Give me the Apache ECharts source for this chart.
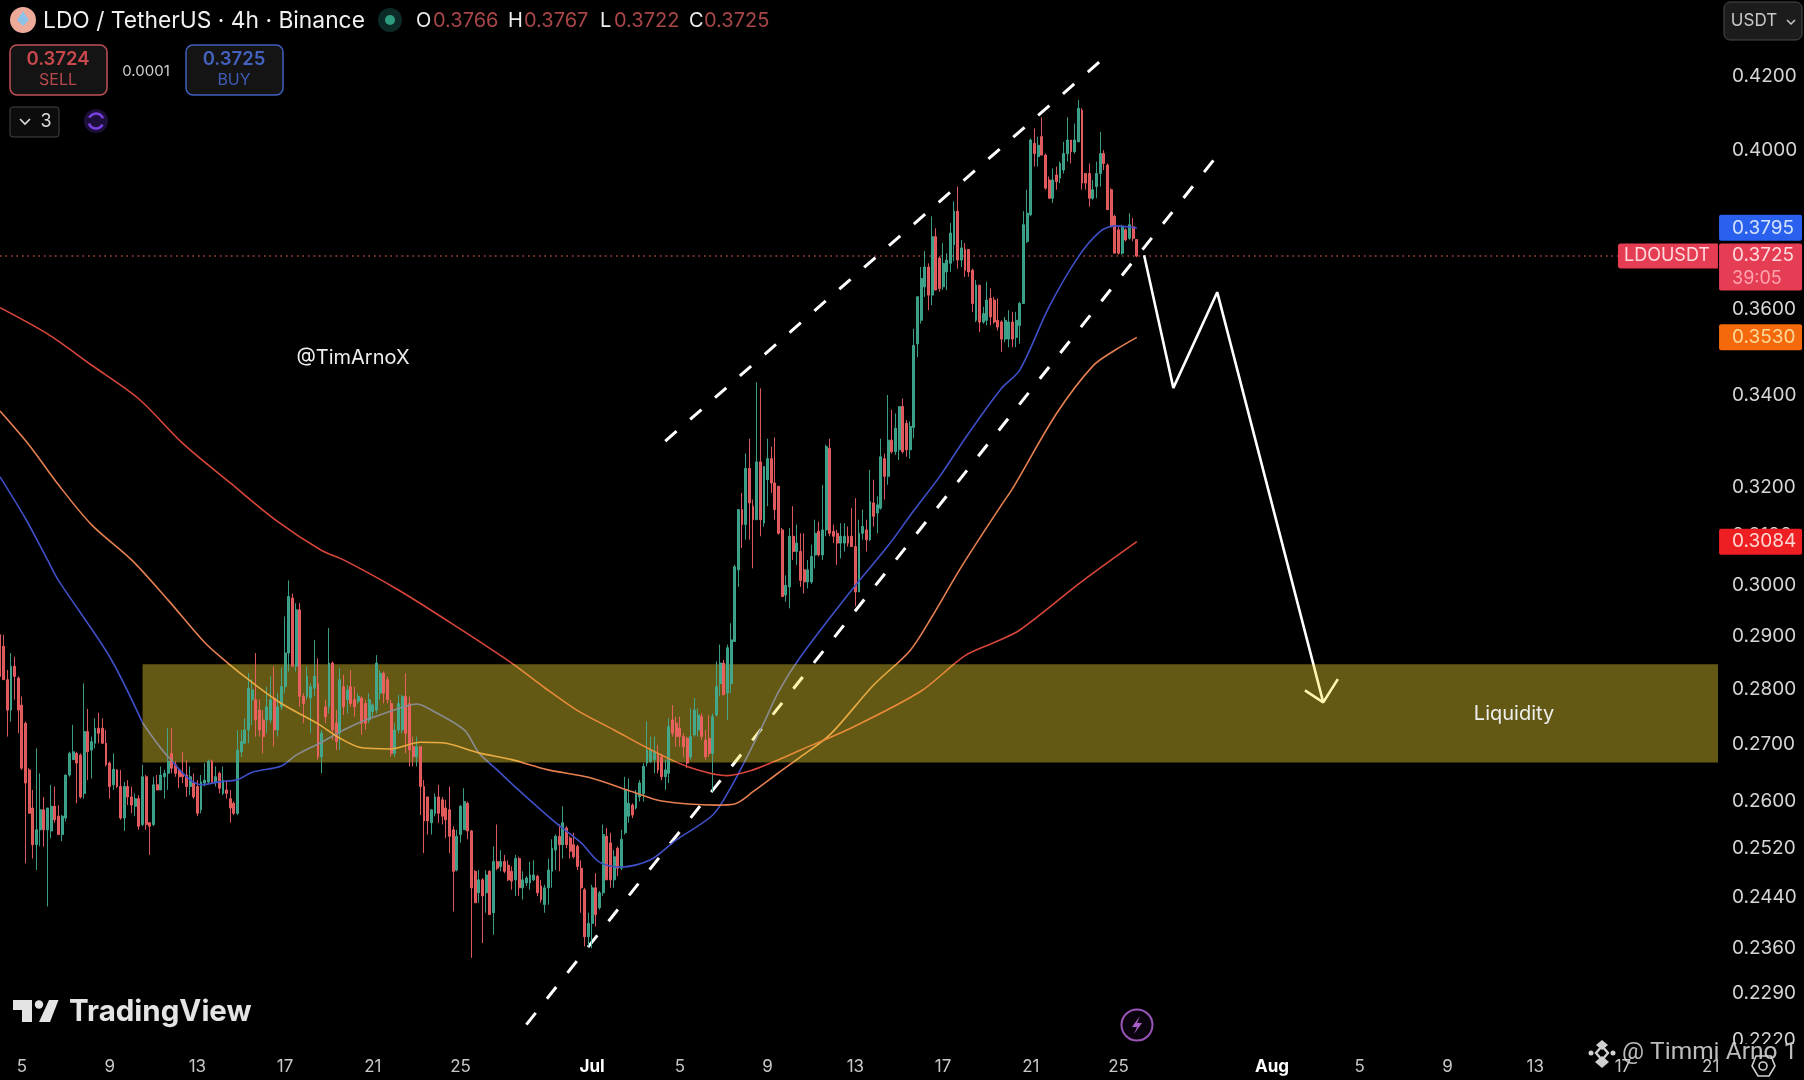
<!DOCTYPE html>
<html><head><meta charset="utf-8"><style>html,body{margin:0;padding:0;background:#000}#c{width:1804px;height:1080px}</style>
<script src="https://cdn.jsdelivr.net/npm/echarts@6/dist/echarts.min.js"></script></head><body><div id="c"></div>
<script>
// rows: [open, close, low, high], 4h candles from Jun 4
const candlesJune = [
[.29,.2821,.2815,.2971],[.2878,.2815,.2815,.29],[.2815,.2759,.2711,.2833],[.2759,.284,.2738,.2865],[.284,.2821,.2778,.2858],[.2818,.2759,.2717,.2821],[.2768,.2655,.2652,.2784],[.2735,.2629,.2493,.2738],[.2652,.2577,.2577,.2655],[.2586,.2524,.2501,.2617],
[.2524,.2549,.2482,.269],[.2549,.2583,.2521,.2646],[.2583,.2549,.2521,.2605],[.2549,.2586,.2423,.2586],[.2547,.2589,.2535,.2626],[.2589,.2566,.2561,.2623],[.2572,.2541,.2541,.2591],[.2541,.2572,.253,.2574],[.2569,.2643,.2563,.2643],[.2643,.2681,.264,.2684],
[.267,.2684,.267,.2732],[.2681,.2664,.2594,.2684],[.2678,.2605,.2602,.2681],[.2611,.272,.2602,.2808],[.272,.2684,.2634,.2761],[.2687,.2702,.2637,.2711],[.2699,.2726,.269,.2744],[.2726,.2717,.2699,.2754],[.2726,.2699,.2699,.2744],[.2699,.2661,.2658,.2723],
[.2664,.2623,.2602,.2667],[.2626,.2653,.2617,.2681],[.2652,.2623,.262,.2653],[.2623,.2569,.2566,.2652],[.2569,.2623,.2547,.2631],[.2623,.2605,.2591,.2634],[.2605,.2591,.2577,.2623],[.2589,.2602,.2572,.2611],[.2602,.2555,.2549,.2608],[.2558,.264,.2555,.2661],
[.264,.2558,.2549,.2643],[.2561,.2555,.2507,.2561],[.2558,.2626,.2555,.264],[.2626,.2617,.2617,.2643],[.2617,.2643,.2617,.2658],[.264,.2646,.2602,.2652],[.2646,.2667,.2617,.2726],[.2681,.2655,.2646,.2726],[.2661,.2646,.264,.2667],[.2652,.264,.262,.2655],
[.2646,.264,.2629,.2684],[.2643,.2623,.2605,.267],[.2623,.264,.2608,.2658],[.2629,.2605,.2602,.2646],[.2623,.2577,.2572,.2634],[.2583,.2631,.2577,.2643],[.2629,.2634,.2623,.2664],[.2631,.2667,.2629,.267],[.2667,.2631,.2629,.267],[.2631,.264,.2623,.2658],
[.2646,.262,.2611,.2649],[.2611,.2634,.2608,.2658],[.2617,.2611,.2602,.2634],[.2602,.2586,.2561,.2617],[.2594,.2577,.2574,.2597],[.2577,.2687,.2574,.2723],[.2684,.2702,.2675,.2723],[.2699,.2723,.2699,.2744],[.2723,.2799,.2699,.2827],[.2778,.2796,.2732,.2815],
[.2778,.2741,.2711,.2865],[.2759,.2723,.2711,.2778],[.2741,.2711,.2681,.2759],[.2741,.2765,.2717,.2802],[.2741,.2778,.2735,.2821],[.2781,.2723,.2693,.284],[.2723,.2765,.2711,.279],[.2765,.2802,.2759,.2837],[.2802,.2865,.279,.2935],[.2865,.2974,.283,.3006],
[.2971,.284,.284,.298],[.284,.2948,.283,.2961],[.2948,.2784,.2765,.2961],[.2784,.2771,.2735,.279],[.2784,.2821,.2778,.284],[.2781,.2802,.2717,.2808],[.2799,.2821,.2784,.289],[.2808,.2675,.267,.2855],[.2675,.2717,.2646,.2723],[.2765,.2747,.2735,.2778],
[.2765,.2846,.2753,.2913],[.2846,.2723,.2705,.2849],[.2735,.2702,.2687,.2759],[.2717,.2815,.2687,.2837],[.2802,.2765,.275,.2824],[.2778,.2796,.2753,.2805],[.2802,.2771,.2765,.2833],[.2778,.2765,.2747,.2802],[.2775,.2784,.2771,.279],[.2781,.2735,.2714,.2784],
[.2771,.2735,.2723,.2778],[.2741,.2778,.2735,.279],[.2756,.2768,.2747,.2771],[.2759,.2846,.2753,.2861],[.279,.2827,.2778,.2833],[.2827,.279,.2771,.283],[.2815,.2778,.2771,.2821],[.2771,.2681,.2675,.2778],[.2681,.2723,.2675,.2735],[.2723,.2771,.2717,.2787],
[.2723,.2784,.2717,.2787],[.2784,.2717,.2681,.2827],[.2771,.2687,.2658,.2784],[.2693,.2675,.2658,.2711],[.2675,.2693,.2658,.2711],[.2693,.2623,.2574,.2693],[.2623,.2564,.251,.2634],[.2605,.2564,.2541,.2605],[.2561,.2583,.2541,.2583],[.2577,.2605,.2572,.2611],
[.2605,.2577,.2561,.2626],[.26,.2572,.2558,.2605],[.2586,.2566,.2535,.26],[.2583,.2538,.251,.2623],[.2549,.248,.2415,.2555],[.2482,.2538,.248,.2549],[.2541,.2589,.2527,.2591],[.2549,.2597,.2549,.262],[.2594,.2547,.2533,.2597],[.2547,.2453,.2342,.2549],
[.248,.2429,.2429,.2482],[.2445,.2466,.2429,.2482],[.2466,.244,.2365,.2469],[.2445,.2474,.2413,.2482],[.248,.241,.241,.2482],[.2413,.2496,.2378,.2521],[.2496,.2485,.2482,.2558],[.2488,.2496,.248,.2515],[.2496,.248,.2477,.2507],[.249,.2466,.2464,.2498],
[.248,.2464,.245,.2488],[.2466,.2501,.244,.2507],[.2501,.2453,.244,.2504],[.2453,.2466,.2434,.248],[.2461,.2469,.2456,.2472],[.2461,.2474,.245,.2496],[.2466,.2474,.2464,.2498],[.2472,.2445,.244,.2474],[.2456,.2434,.2429,.2466],[.2426,.2453,.2413,.2458],
[.2453,.2482,.2426,.2501],[.248,.2518,.2453,.2533],[.2515,.2538,.2482,.2541],[.2538,.2524,.248,.2558],[.2524,.2561,.2501,.2589],[.2552,.2524,.2518,.2555],[.2535,.2513,.2501,.2538],[.2524,.2504,.2501,.2544],[.2521,.2488,.2482,.2524],[.2485,.2453,.2413,.2498],
[.245,.2375,.236,.2453],[.2375,.2396,.236,.2413]];
const candlesJuly = [
[.2396,.2453,.2357,.2458],[.2453,.241,.2391,.2477],[.2421,.2445,.2418,.2448],[.2445,.2541,.244,.2558],[.2538,.2466,.2466,.2552],[.2527,.2466,.2453,.2544],[.2466,.2504,.2453,.2515],[.2518,.2485,.2472,.2521],
[.2485,.2533,.2482,.2549],[.2544,.2617,.2541,.264],[.2572,.2594,.2561,.2637],[.2591,.2574,.2569,.2594],[.2586,.2611,.2583,.2617],[.2605,.2629,.2597,.2634],[.2611,.2658,.2597,.2664],[.2664,.2687,.2658,.2738],[.2667,.2687,.2664,.2711],[.267,.2684,.2646,.2711],
[.2681,.2652,.2646,.2696],[.2675,.264,.2634,.2681],[.264,.2652,.2617,.267],[.2646,.2729,.2629,.2744],[.2741,.2717,.2711,.2768],[.2735,.2711,.2693,.2747],[.2726,.2711,.2693,.2747],[.2711,.2693,.2675,.2717],[.2708,.2664,.2655,.2711],[.2675,.2711,.267,.2762],
[.2714,.2759,.2711,.2781],[.2723,.275,.2711,.2762],[.2747,.2711,.2705,.2753],[.2705,.2675,.267,.2723],[.2708,.2681,.2675,.275],[.2681,.2747,.2614,.2753],[.275,.2802,.2747,.2849],[.2808,.2846,.2784,.2881],[.2846,.2787,.2787,.2852],[.279,.2875,.2741,.2881],
[.2808,.289,.279,.2922],[.2887,.3033,.2887,.3037],[.3027,.315,.2993,.315],[.315,.3119,.3071,.3185],[.3119,.3237,.3088,.3269],[.3237,.3164,.3088,.3301],[.3157,.3129,.303,.3171],[.3129,.3251,.3129,.3427],[.3251,.3129,.3095,.3413],[.3122,.3241,.3115,.3241],
[.3213,.3258,.3157,.3301],[.3258,.3206,.3185,.3284],[.3206,.315,.3129,.3304],[.3199,.3101,.3098,.3199],[.3108,.2974,.2974,.3112],[.2977,.2996,.2964,.3016],[.2993,.3095,.2951,.3112],[.3095,.3064,.3047,.3157],[.3064,.3081,.3037,.3119],[.3064,.3006,.2993,.3101],
[.3027,.3003,.298,.3101],[.3003,.3027,.299,.3047],[.3003,.3054,.2999,.3078],[.3057,.3101,.303,.3129],[.3105,.3057,.3054,.3125],[.3057,.3108,.3047,.3202],[.3108,.3284,.3095,.3288],[.328,.3101,.3095,.3301],[.3105,.3095,.3081,.3119],[.3101,.3081,.3037,.3108],
[.3081,.3095,.305,.3122],[.3081,.3095,.3064,.3122],[.3095,.3081,.3074,.3115],[.3095,.3074,.3074,.3153],[.3074,.2983,.2955,.3174],[.2983,.3101,.2983,.3129],[.3101,.3115,.3088,.315],[.3108,.3088,.3064,.3129],[.3088,.3167,.3085,.3234],[.3164,.3136,.3115,.3213],
[.3143,.316,.3101,.3178],[.3153,.3262,.315,.3301],[.3258,.322,.3171,.3269],[.322,.3298,.3202,.3398],[.3298,.3273,.3269,.3365],[.3273,.3324,.3266,.3357],[.3277,.3372,.3255,.3372],[.3372,.3273,.3269,.339],[.3335,.3277,.3262,.3342],[.3277,.3328,.3258,.3339],
[.3326,.3511,.3302,.355],[.3515,.3626,.3484,.3626],[.357,.367,.3562,.3698],[.365,.3698,.3626,.3737],[.3698,.363,.3594,.3707],[.363,.3773,.3606,.3824],[.3773,.3642,.3642,.3794],[.372,.3646,.3638,.3724],[.365,.3707,.3642,.3757],[.3686,.3715,.3642,.3732],
[.3707,.3782,.3686,.3807],[.3753,.3837,.3712,.3862],[.3837,.3715,.3694,.39],[.3715,.3745,.3698,.3765],[.3741,.369,.3674,.3757],[.3741,.3686,.3674,.3741],[.369,.361,.359,.3694],[.357,.3654,.3566,.3666],[.3654,.3566,.3542,.3654],[.3566,.3586,.3562,.3602],
[.357,.3618,.3558,.3662],[.3622,.3578,.3558,.3646],[.3618,.3566,.3562,.3626],[.357,.3554,.3546,.3622],[.3566,.3526,.3496,.357],[.3526,.357,.3519,.3578],[.3526,.3566,.3507,.3594],[.3566,.3526,.3507,.359],[.353,.357,.3507,.359],[.3558,.361,.3515,.3614],
[.361,.3803,.361,.3837],[.3761,.3832,.3757,.3892],[.3828,.4022,.3824,.4026],[.4013,.3986,.3952,.4053],[.3978,.4008,.3952,.4031],[.4031,.3982,.3982,.4083],[.3982,.3896,.3892,.3986],[.3917,.387,.387,.3926],[.387,.3917,.3858,.3947],[.393,.3913,.3892,.3952],
[.3922,.396,.3909,.3965],[.3943,.3986,.3934,.4017],[.3986,.4022,.3965,.4083],[.4022,.3991,.396,.4022],[.3991,.4022,.3986,.4066],[.4017,.4107,.4017,.413],[.4102,.3909,.3892,.4107],[.3934,.3909,.3892,.3934],[.3934,.387,.3849,.396],[.387,.3892,.3866,.3917],
[.39,.3934,.387,.3965],[.3934,.3986,.39,.4044],[.3986,.396,.3943,.3995],[.3956,.3841,.3841,.396],[.3892,.3798,.3798,.3896],[.3824,.3732,.3732,.3828],[.379,.3732,.3728,.3798],[.3732,.3798,.3728,.3803],[.379,.3765,.3761,.3794],[.3769,.3803,.3765,.3832],
[.3798,.3769,.3761,.382],[.3766,.3725,.3722,.3767]];
// moving averages, [candle index, price]
const maBlueLeft = [[0,.3219],[7,.3131],[13,.3047],[16,.3006],[30,.2858],[39,.2736]];
const maBlue = [[39,.2736],[46,.2675],[55,.2626],[60,.2631],[65,.2635],[69,.2648],[77,.2659],[81,.2678],[88,.2701],[94,.2723],[100,.2741],[106,.2755],[111,.2766],[114,.277],[118,.2759],[127,.2723],[131,.2682],[136,.2652],[141,.2622],[152,.2561],[159,.2527],[164,.2495],[170,.2487],[178,.2499],[185,.2532],[195,.2574],[200,.2622],[204,.267],[209,.2736],[213,.2793],[219,.2858],[233,.2987],[243,.3076],[250,.3148],[257,.3219],[265,.3313],[274,.3413],[279,.3455],[287,.3602],[295,.3723],[301,.3786],[305,.38],[311,.3795]];
const maOrange = [[0,.3362],[8,.3287],[16,.3202],[25,.3119],[36,.3047],[46,.2967],[56,.2885],[62,.2848],[68,.2815],[77,.2771],[87,.2734],[93,.2708],[99,.2691],[107,.2689],[115,.2701],[121,.27],[131,.2682],[140,.267],[150,.2652],[161,.2639],[173,.2614],[181,.2598],[196,.2591],[201,.2593],[206,.2614],[213,.2647],[219,.2675],[227,.2714],[239,.2805],[249,.287],[255,.2935],[263,.3033],[274,.316],[277,.3194],[289,.3356],[299,.3464],[305,.35],[311,.353]];
const maRed = [[0,.36],[13,.3538],[25,.3466],[38,.3389],[50,.3291],[63,.3206],[76,.3125],[88,.3066],[94,.3047],[109,.2987],[125,.2915],[140,.2846],[149,.28],[158,.2758],[168,.2723],[177,.2691],[188,.2658],[199,.2642],[206,.2652],[213,.267],[219,.2687],[233,.2727],[252,.2794],[264,.286],[272,.2885],[279,.2909],[296,.3004],[311,.3084]];
// drawings on the chart
const channelUpper = [[182,.3296],[303,.4255]];
const channelLower = [[144,.2241],[335,.4005]];
const projection = [[313,.3727],[321,.3414],[333,.3637],[362,.2773]];
const arrowHead = [[357,.2795],[362,.2773],[366,.2816]];
const zoneFrom = 39, zoneTo = 470, zoneLow = .2665, zoneHigh = .2844;
const lastPrice = .3725;
const yTicks = [.42,.40,.38,.36,.34,.32,.31,.30,.29,.28,.27,.26,.252,.244,.236,.229,.222];
const xTickIndex = [6,30,54,78,102,126,162,186,210,234,258,282,306,348,372,396,420,444,468];
const xTickLabels = ['5','9','13','17','21','25','Jul','5','9','13','17','21','25','Aug','5','9','13','17','21'];
const barCount = 471;

const candles = candlesJune.concat(candlesJuly);
const categories = [];
for (let i=0;i<barCount;i++){const d=new Date(Date.UTC(2024,5,4,i*4));categories.push(d.toISOString().slice(0,16));}
const FONT='Inter';
const chart = echarts.init(document.getElementById('c'),null,{renderer:'canvas'});
const line=(name,data,color,width,z,extra)=>Object.assign({type:'line',name,data,symbol:'none',z,silent:true,animation:false,clip:true,lineStyle:Object.assign(color?{color,width}:{width},extra||{})});
const ma=(name,data,color)=>Object.assign(line(name,data,color,1.6,12),{smooth:.3});
const tag=(value,text,bg,fg)=>({type:'scatter',data:[[barCount-1,value]],symbolSize:.1,z:20,clip:false,silent:true,itemStyle:{color:'rgba(0,0,0,0)',opacity:1},
  label:{show:true,opacity:1,position:'right',distance:1,formatter:text,width:70,height:26,lineHeight:26,padding:[0,0,0,13],verticalAlign:'middle',backgroundColor:bg,color:fg,fontFamily:FONT,fontSize:19,borderRadius:2}});
const series=[
  {type:'candlestick',name:'LDOUSDT',data:candles,z:11,silent:true,barWidth:2.4,
   itemStyle:{color:'#41ad93',color0:'#f26265',borderColor:'#41ad93',borderColor0:'#f26265',borderWidth:1,opacity:.9}},
  ma('MA blue left',maBlueLeft,'#3f4fc8'),
  ma('MA blue',maBlue,null),
  ma('MA orange',maOrange,null),
  ma('MA red',maRed,null),
  line('last',[[0,lastPrice],[barCount-1,lastPrice]],'#b4483f',1.4,3,{type:[1.5,4]}),
  line('channel upper',channelUpper,'#fff',3,4,{type:[15,18]}),
  line('channel lower',channelLower,'#fff',3,4,{type:[15,18]}),
  line('projection',projection,'#fff',2.6,4),
  line('arrow',arrowHead,'#fff',2.6,4),
  {type:'line',name:'liquidity',data:[],z:10,silent:true,markArea:{silent:true,z:10,itemStyle:{color:'rgba(254,230,51,0.39)'},
    data:[[{xAxis:zoneFrom,yAxis:zoneHigh},{xAxis:zoneTo,yAxis:zoneLow}]]}},
  tag(.3795,'0.3795','#2a60ee','#d2e2ff'),
  tag(.353,'0.3530','#f4690c','#ffd99a'),
  tag(.3084,'0.3084','#ee1f22','#ffd6d2'),
  {type:'scatter',data:[[barCount-1,lastPrice]],symbolSize:.1,z:21,clip:false,silent:true,itemStyle:{color:'rgba(0,0,0,0)',opacity:1},
   label:{show:true,opacity:1,position:'right',distance:1,offset:[0,11],width:70,height:47,padding:[0,0,0,13],backgroundColor:'#e53d54',borderRadius:2,
    formatter:'{a|0.3725}\n{b|39:05}',rich:{a:{fontFamily:FONT,fontSize:19,color:'#ffd9dc',lineHeight:24},b:{fontFamily:FONT,fontSize:18,color:'#ffa3ae',lineHeight:22}}}},
  {type:'scatter',data:[[barCount-1,lastPrice]],symbolSize:.1,z:21,clip:false,silent:true,itemStyle:{color:'rgba(0,0,0,0)',opacity:1},
   label:{show:true,opacity:1,position:'left',distance:0,formatter:'LDOUSDT',width:92,height:25,lineHeight:25,padding:[0,8,0,0],backgroundColor:'#e53d54',color:'#ffd9dc',fontFamily:FONT,fontSize:18,borderRadius:[3,0,0,3]}}
];
const tint=(idx,base,inside)=>({type:'piecewise',show:false,seriesIndex:idx,dimension:1,pieces:[{gt:0,lte:zoneLow,color:base},{gt:zoneLow,lte:zoneHigh,color:inside},{gt:zoneHigh,lte:1,color:base}]});
chart.setOption({
 animation:false,backgroundColor:'#000',
 grid:{left:0,right:86,top:0,bottom:33,containLabel:false},
 visualMap:[tint(2,'#3f4fc8','#8a8b90'),tint(3,'#e57f50','#e8ab42'),tint(4,'#d8453a','#e88a38')],
 xAxis:{type:'category',data:categories,boundaryGap:false,axisLine:{show:false},axisTick:{show:false},splitLine:{show:false},
  axisLabel:{interval:(i)=>xTickIndex.includes(i),margin:11,fontFamily:FONT,fontSize:17,color:'#c8c8c8',
   formatter:(v,i)=>{const k=xTickIndex.indexOf(i);if(k<0)return '';const t=xTickLabels[k];return /[A-Za-z]/.test(t)?'{b|'+t+'}':t;},
   rich:{b:{fontFamily:FONT,fontSize:17,fontWeight:'bold',color:'#fff'}}}},
 yAxis:{type:'log',position:'right',min:.22080,max:.44121,axisLine:{show:false},axisTick:{show:false},splitLine:{show:false},minorSplitLine:{show:false},
  axisLabel:{customValues:yTicks,margin:14,fontFamily:FONT,fontSize:19,color:'#d6d6d6',formatter:(v)=>'{a|'+Number(v).toFixed(4)+'}',
   rich:{a:{fontFamily:FONT,fontSize:19,color:'#d6d6d6',padding:[3,0,0,0]}}}},
 series,
 graphic:[
  // cover under the axis
  {type:'rect',z:30,shape:{x:1720,y:1044,width:84,height:8},style:{fill:'#000'}},
  // header logo
  {type:'circle',z:40,shape:{cx:23,cy:20,r:13},style:{fill:'#eeaa99'}},
  {type:'polygon',z:41,shape:{points:[[23,11],[29,20],[23,26],[17,20]]},style:{fill:'#8fc2e8'}},
  {type:'text',z:40,x:43,y:21,style:{text:'LDO / TetherUS · 4h · Binance',fill:'#f0f0f0',font:'22.8px '+FONT,verticalAlign:'middle'}},
  {type:'circle',z:40,shape:{cx:390,cy:20,r:12},style:{fill:'#0d2b26'}},
  {type:'circle',z:41,shape:{cx:390,cy:20,r:5},style:{fill:'#2e9c80'}},
  ...[['O',416,'0.3766',433],['H',508,'0.3767',524],['L',600,'0.3722',614],['C',689,'0.3725',704]].flatMap(r=>[
   {type:'text',z:40,x:r[1],y:21,style:{text:r[0],fill:'#eee',font:'20px '+FONT,verticalAlign:'middle'}},
   {type:'text',z:40,x:r[3],y:21,style:{text:r[2],fill:'#a84648',font:'20px '+FONT,verticalAlign:'middle'}}]),
  {type:'rect',z:40,shape:{x:10,y:45,width:97,height:50,r:7},style:{fill:'#141414',stroke:'#c05055',lineWidth:1.5}},
  {type:'text',z:41,x:58,y:59,style:{text:'0.3724',fill:'#c9484d',font:'600 18.5px '+FONT,align:'center',verticalAlign:'middle'}},
  {type:'text',z:41,x:58,y:80,style:{text:'SELL',fill:'#b84a4e',font:'16px '+FONT,align:'center',verticalAlign:'middle'}},
  {type:'text',z:41,x:146,y:71,style:{text:'0.0001',fill:'#cfcfcf',font:'15px '+FONT,align:'center',verticalAlign:'middle'}},
  {type:'rect',z:40,shape:{x:186,y:45,width:97,height:50,r:7},style:{fill:'#141414',stroke:'#3f5fc0',lineWidth:1.5}},
  {type:'text',z:41,x:234,y:59,style:{text:'0.3725',fill:'#4462bf',font:'600 18.5px '+FONT,align:'center',verticalAlign:'middle'}},
  {type:'text',z:41,x:234,y:80,style:{text:'BUY',fill:'#3f5cb8',font:'16px '+FONT,align:'center',verticalAlign:'middle'}},
  {type:'rect',z:40,shape:{x:10,y:107,width:49,height:30,r:3},style:{fill:'#0c0c0c',stroke:'#444',lineWidth:1}},
  {type:'polyline',z:41,shape:{points:[[20,119],[25,124],[30,119]]},style:{stroke:'#ddd',lineWidth:1.6,fill:null}},
  {type:'text',z:41,x:46,y:122,style:{text:'3',fill:'#ddd',font:'18px '+FONT,align:'center',verticalAlign:'middle'}},
  {type:'circle',z:40,shape:{cx:96,cy:121,r:12},style:{fill:'#1c0f3a'}},
  {type:'arc',z:41,shape:{cx:96,cy:121,r:7.5,startAngle:3.6,endAngle:5.9},style:{stroke:'#7a3fe0',lineWidth:2.6,fill:null}},
  {type:'arc',z:41,shape:{cx:96,cy:121,r:7.5,startAngle:0.5,endAngle:2.8},style:{stroke:'#7a3fe0',lineWidth:2.6,fill:null}},
  {type:'rect',z:40,shape:{x:1724,y:2,width:78,height:38,r:6},style:{fill:'#1c1c1c',stroke:'#4a4a4a',lineWidth:1}},
  {type:'text',z:41,x:1754,y:21,style:{text:'USDT',fill:'#c8c8c8',font:'17px '+FONT,align:'center',verticalAlign:'middle'}},
  {type:'polyline',z:41,shape:{points:[[1787,20],[1791,24],[1795,20]]},style:{stroke:'#c8c8c8',lineWidth:1.5,fill:null}},
  {type:'text',z:40,x:353,y:358,style:{text:'@TimArnoX',fill:'#eee',font:'20px '+FONT,align:'center',verticalAlign:'middle'}},
  {type:'text',z:40,x:1514,y:714,style:{text:'Liquidity',fill:'#eee',font:'20px '+FONT,align:'center',verticalAlign:'middle'}},
  // TradingView mark
  {type:'polygon',z:40,shape:{points:[[13,1000],[32,1000],[32,1022],[22,1022],[22,1010],[13,1010]]},style:{fill:'#e4e4e4'}},
  {type:'circle',z:40,shape:{cx:39,cy:1004.5,r:4.2},style:{fill:'#e4e4e4'}},
  {type:'polygon',z:40,shape:{points:[[49,1000],[58.5,1000],[50,1022],[39,1022]]},style:{fill:'#e4e4e4'}},
  {type:'text',z:40,x:69,y:1012,style:{text:'TradingView',fill:'#e4e4e4',font:'bold 29.5px '+FONT,verticalAlign:'middle'}},
  // lightning
  {type:'circle',z:40,shape:{cx:1137,cy:1025,r:15.5},style:{fill:'#0a030d',stroke:'#9a55b8',lineWidth:2}},
  {type:'polygon',z:41,shape:{points:[[1140,1016],[1132,1027],[1137,1027],[1134,1034],[1142,1023],[1137,1023]]},style:{fill:'#a860c8'}},
  // watermark
  {type:'polygon',z:45,shape:{points:[[1602,1046],[1608,1053],[1602,1060],[1596,1053]]},style:{fill:'none',stroke:'#d0d0d0',lineWidth:2.4}},
  {type:'polygon',z:45,shape:{points:[[1602,1040],[1608,1045],[1602,1050],[1596,1045]]},style:{fill:'#d0d0d0'}},
  {type:'polygon',z:45,shape:{points:[[1602,1056],[1609,1062],[1602,1068],[1595,1062]]},style:{fill:'#d0d0d0'}},
  {type:'circle',z:45,shape:{cx:1591,cy:1053,r:2.5},style:{fill:'#d0d0d0'}},
  {type:'circle',z:45,shape:{cx:1613,cy:1053,r:2.5},style:{fill:'#d0d0d0'}},
  {type:'text',z:45,x:1622,y:1053,style:{text:'@ Timmi Arno 1',fill:'rgba(215,215,215,0.88)',font:'24.5px Roboto',verticalAlign:'middle'}},
  {type:'polygon',z:45,shape:{points:[[1756,1056],[1771,1056],[1775,1066],[1769,1076],[1758,1076],[1752,1066]]},style:{fill:'none',stroke:'#cfcfcf',lineWidth:1.6}},
  {type:'circle',z:45,shape:{cx:1763,cy:1066,r:4},style:{fill:'none',stroke:'#cfcfcf',lineWidth:1.6}}
 ]
});
</script></body></html>
